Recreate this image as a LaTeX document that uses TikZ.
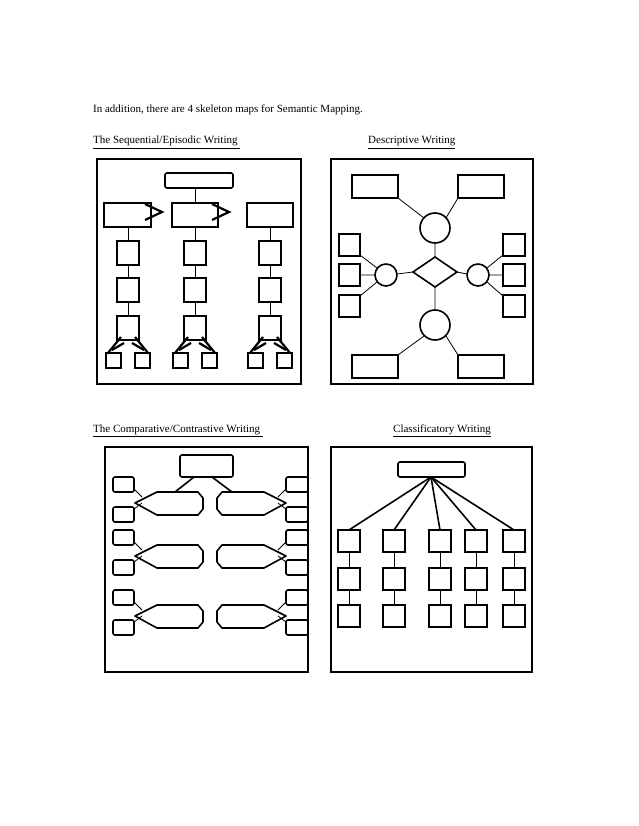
\documentclass[tikz,border=0pt]{standalone}
\usepackage{fontspec}
\setmainfont{Liberation Serif}
\begin{document}
\begin{tikzpicture}[x=1pt,y=-1pt,
  bx/.style={draw,line width=1.6pt},
  ln/.style={line width=0.8pt},
  tk/.style={line width=2.2pt},
  tx/.style={anchor=base west,inner sep=0pt,font=\fontsize{11}{13}\selectfont}]
\useasboundingbox (0,0) rectangle (638,826);
\fill[white] (0,0) rectangle (638,826);
\node[tx] (t0) at (93,113) {In addition, there are 4 skeleton maps for Semantic Mapping.};
\node[tx] (t1) at (93,144) {\underline{The Sequential/Episodic Writing\ }};
\node[tx] (t2) at (368,144) {\underline{Descriptive Writing}};
\node[tx] (t3) at (93,432) {\underline{The Comparative/Contrastive Writing\ }};
\node[tx] (t4) at (393,432) {\underline{Classificatory Writing}};
% Panel 1
\draw[bx] (97,159) rectangle (301,384);
\draw[bx,rounded corners=2pt] (165,173) rectangle (233,188);
\draw[ln] (195,188) -- (195,203);
\foreach \c/\l/\r in {128/104/151,195/172/218,270/247/293}{
  \draw[bx] (\l,203) rectangle (\r,227);
  \draw[ln] (\c,227) -- (\c,241) (\c,265) -- (\c,278) (\c,302) -- (\c,316);
  \foreach \y in {241,278,316} \draw[bx] (\c-11,\y) rectangle (\c+11,\y+24);
  \draw[bx] (\c-22,353) rectangle (\c-7,368);
  \draw[bx] (\c+7,353) rectangle (\c+22,368);
  \draw[tk] (\c-7,337) -- (\c-20,353) (\c+7,337) -- (\c+20,353);
  \draw[tk] (\c-4,343) -- (\c-16,350) (\c+4,343) -- (\c+16,350);
}
\draw[tk] (145,204) -- (162,212) -- (145,220);
\draw[tk] (212,204) -- (229,212) -- (212,220);
% Panel 2
\draw[bx] (331,159) rectangle (533,384);
\draw[bx] (352,175) rectangle (398,198);
\draw[bx] (458,175) rectangle (504,198);
\draw[bx] (352,355) rectangle (398,378);
\draw[bx] (458,355) rectangle (504,378);
\draw[ln] (398,198) -- (424,218) (458,198) -- (446,218) (435,243) -- (435,257)
  (435,287) -- (435,310) (424,336) -- (398,355) (446,336) -- (458,355)
  (413,272) -- (397,274) (457,272) -- (467,274);
\draw[bx,fill=white] (435,228) circle (15);
\draw[bx,fill=white] (435,325) circle (15);
\draw[bx,fill=white] (413,272) -- (435,257) -- (457,272) -- (435,287) -- cycle;
\draw[bx,fill=white] (386,275) circle (11);
\draw[bx,fill=white] (478,275) circle (11);
\foreach \y in {234,264,295}{
  \draw[bx] (339,\y) rectangle (360,\y+22);
  \draw[bx] (503,\y) rectangle (525,\y+22);}
\draw[ln] (360,255) -- (377,268) (360,275) -- (375,275) (360,296) -- (377,282)
  (503,255) -- (487,268) (503,275) -- (489,275) (503,296) -- (487,282);
% Panel 3
\begin{scope}
\clip (105,447) rectangle (308,672);
\draw[bx,rounded corners=2pt] (180,455) rectangle (233,477);
\draw[tk,line width=1.6pt] (194,477) -- (175,492) (212,477) -- (232,492);
\foreach \yc in {503,556,616}{
  \draw[bx,line join=round] (135,\yc) -- (157,\yc-11) -- (198,\yc-11) -- (203,\yc-5) -- (203,\yc+6) -- (198,\yc+12) -- (157,\yc+12) -- cycle;
  \draw[bx,line join=round] (286,\yc) -- (264,\yc-11) -- (222,\yc-11) -- (217,\yc-5) -- (217,\yc+6) -- (222,\yc+12) -- (264,\yc+12) -- cycle;
  \draw[bx,rounded corners=2pt] (113,\yc-26) rectangle (134,\yc-11);
  \draw[bx,rounded corners=2pt] (113,\yc+4) rectangle (134,\yc+19);
  \draw[bx,rounded corners=2pt] (286,\yc-26) rectangle (308,\yc-11);
  \draw[bx,rounded corners=2pt] (286,\yc+4) rectangle (308,\yc+19);
  \draw[ln] (134,\yc-14) -- (142,\yc-6) (134,\yc+6) -- (142,\yc) (286,\yc-14) -- (278,\yc-6) (286,\yc+6) -- (278,\yc);
}
\end{scope}
\draw[bx] (105,447) rectangle (308,672);
% Panel 4
\draw[bx] (331,447) rectangle (532,672);
\draw[bx,rounded corners=2pt] (398,462) rectangle (465,477);
\foreach \c in {349,394,440,476,514}{
  \draw[tk,line width=1.6pt] (431,477) -- (\c,530);
  \draw[ln] (\c,552) -- (\c,568) (\c,590) -- (\c,605);
  \foreach \y in {530,568,605} \draw[bx] (\c-11,\y) rectangle (\c+11,\y+22);
}
\end{tikzpicture}
\end{document}
